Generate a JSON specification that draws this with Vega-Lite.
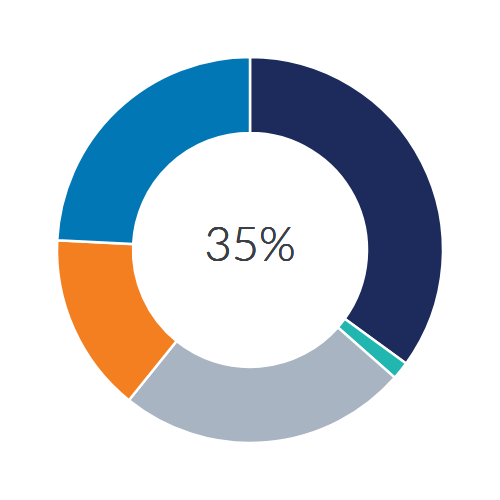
{
  "$schema": "https://vega.github.io/schema/vega-lite/v6.json",
  "width": 500,
  "height": 500,
  "autosize": {"type": "fit", "contains": "padding"},
  "padding": 0,
  "background": "#ffffff",
  "config": {"view": {"stroke": null}},
  "data": {
    "values": [
      {"segment": "A", "order": 1, "share": 35},
      {"segment": "B", "order": 2, "share": 1.5},
      {"segment": "C", "order": 3, "share": 24.3},
      {"segment": "D", "order": 4, "share": 15},
      {"segment": "E", "order": 5, "share": 24.2}
    ]
  },
  "layer": [
    {
      "mark": {
        "type": "arc",
        "outerRadius": 193,
        "innerRadius": 117,
        "stroke": "#ffffff",
        "strokeWidth": 2.5
      },
      "encoding": {
        "theta": {"field": "share", "type": "quantitative", "stack": true},
        "order": {"field": "order", "type": "quantitative"},
        "color": {
          "field": "segment",
          "type": "nominal",
          "legend": null,
          "scale": {
            "domain": ["A", "B", "C", "D", "E"],
            "range": ["#1c2b5b", "#22b6b1", "#a9b4c3", "#f37f20", "#0277b6"]
          }
        }
      }
    },
    {
      "mark": {
        "type": "text",
        "text": "35%",
        "font": "Lato",
        "fontSize": 47,
        "fontWeight": 300,
        "color": "#3b3f46",
        "align": "center",
        "baseline": "middle",
        "dy": -3
      },
      "encoding": {}
    }
  ]
}
